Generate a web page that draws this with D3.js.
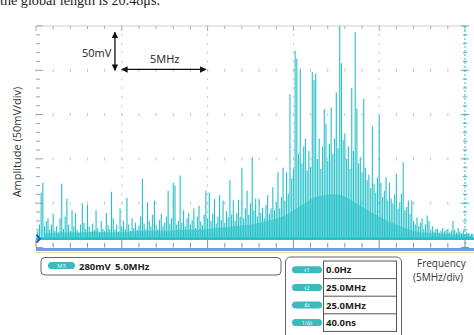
<!DOCTYPE html>
<html>
<head>
<meta charset="utf-8">
<script src="https://cdn.jsdelivr.net/npm/d3@7"></script>
<style>
body { margin: 0; background: #fff; }
#chart svg { display: block; }
</style>
</head>
<body>
<div id="chart"></div>
<script>
// spectrum lines, one every 0.1 MHz from 0 MHz, amplitude in mV above the trace baseline
const binStep = 0.1;
const amplitude = [
	5, 9, 16, 52, 63, 14, 20, 23, 10, 16,
	28, 9, 14, 7, 23, 62, 11, 25, 45, 16,
	9, 32, 14, 29, 10, 7, 16, 40, 18, 11,
	38, 14, 8, 17, 10, 32, 12, 7, 20, 11,
	9, 29, 15, 11, 53, 23, 10, 16, 8, 34,
	14, 20, 11, 46, 16, 9, 23, 12, 18, 10,
	15, 25, 68, 17, 11, 41, 20, 14, 27, 43,
	16, 11, 21, 28, 14, 18, 25, 54, 17, 23,
	63, 60, 16, 20, 71, 18, 32, 14, 23, 29,
	16, 21, 34, 12, 25, 37, 19, 15, 27, 54,
	23, 52, 20, 28, 45, 17, 25, 49, 21, 43,
	18, 31, 24, 66, 27, 43, 20, 29, 44, 25,
	80, 23, 34, 54, 27, 40, 92, 32, 45, 25,
	45, 29, 35, 23, 38, 49, 28, 34, 58, 32,
	41, 75, 34, 47, 80, 43, 75, 51, 163, 68,
	79, 212, 203, 96, 192, 85, 104, 113, 77, 99,
	81, 188, 179, 186, 90, 113, 79, 104, 146, 130,
	88, 107, 148, 96, 113, 165, 102, 242, 198, 111,
	119, 90, 104, 79, 170, 99, 233, 147, 85, 92,
	75, 158, 80, 66, 72, 57, 127, 62, 52, 69,
	139, 63, 47, 54, 69, 43, 63, 45, 40, 50,
	73, 34, 41, 51, 86, 32, 36, 43, 28, 43,
	20, 16, 24, 14, 18, 23, 11, 16, 26, 20,
	10, 14, 8, 11, 11, 7, 9, 12, 8, 10,
	11, 7, 9, 20, 10, 7, 12, 8, 6, 9,
	5, 7, 6, 3, 6
];
// dense noise floor under the lines, one value per MHz (mV)
const floorLevel = [6, 7, 7, 8, 7, 8, 9, 9, 10, 10, 12, 14, 16, 20, 26, 38, 48, 50, 42, 30, 20, 12, 7, 6, 5, 5];

const freqTicks = d3.range(0, 26, 1);      // MHz, 5 MHz/div
const ampTicks = d3.range(-10, 241, 10);    // mV, 50 mV/div
const cursorNames = ["t1", "t2", "\u0394t", "1/\u0394t"];
const cursorValues = ["0.0Hz", "25.0MHz", "25.0MHz", "40.0ns"];
const readout = ["M3", "280mV", "5.0MHz"];

const teal = "#24c1c8";

class Scope {

	constructor(){
		this.width = 474;
		this.height = 335;
		this.svg = d3.select("#chart").append("svg")
			.attr("width", this.width).attr("height", this.height)
			.style("font-family", "'Open Sans', 'Liberation Sans', sans-serif");

		this.x = d3.scaleLinear().domain([0, 25]).range([36, 465]);
		this.y = d3.scaleLinear().domain([-10, 240]).range([247.5, 26]);
	}

	addGrid(){
		let x = this.x, y = this.y;
		let g = this.svg.append("g");
		let isMajorF = d => d % 5 === 0;
		let isMajorA = d => (d + 10) % 50 === 0;

		g.append("line").attr("x1", x(0)).attr("x2", x(25)).attr("y1", y(240)).attr("y2", y(240))
			.attr("stroke", "#cfcfcf");
		g.selectAll(".tt").data(freqTicks).join("line")
			.attr("x1", d => x(d)).attr("x2", d => x(d))
			.attr("y1", y(240)).attr("y2", d => y(240) + (isMajorF(d) ? 5 : 3))
			.attr("stroke", "#a8a8a8");

		g.selectAll(".lt").data(ampTicks).join("line")
			.attr("x1", x(0)).attr("x2", d => x(0) + (isMajorA(d) ? 7 : 4))
			.attr("y1", d => y(d)).attr("y2", d => y(d))
			.attr("stroke", "#a0a0a0");

		// dotted major divisions
		[5, 10, 15, 20].forEach(f => {
			g.selectAll(null).data(ampTicks).join("rect")
				.attr("x", x(f) - 0.5).attr("y", d => y(d) - 1).attr("width", 1).attr("height", 2)
				.attr("fill", "#c4c4c4");
		});
		[40, 90, 140, 190].forEach(a => {
			g.selectAll(null).data(freqTicks).join("rect")
				.attr("x", d => x(d) - 0.5).attr("y", y(a) - 1.5).attr("width", 1).attr("height", 3)
				.attr("fill", "#c4c4c4");
		});

		// lower tick strip and status bar lines
		g.selectAll(".bt").data(freqTicks).join("line")
			.attr("x1", d => x(d)).attr("x2", d => x(d))
			.attr("y1", d => isMajorF(d) ? 239.5 : 243).attr("y2", 247.5)
			.attr("stroke", "#8c8c8c");
		g.append("rect").attr("x", x(0)).attr("y", 248).attr("width", this.width - x(0)).attr("height", 3)
			.attr("fill", "#6e9fe2");
		g.append("line").attr("x1", x(0)).attr("x2", this.width).attr("y1", 252.5).attr("y2", 252.5)
			.attr("stroke", "#efd49a");
	}

	addSpectrum(){
		let x = this.x, y = this.y;
		this.svg.append("clipPath").attr("id", "plotclip")
			.append("rect").attr("x", x(0)).attr("y", y(240)).attr("width", this.width - x(0)).attr("height", y(0) - y(240) + 2);

		let g = this.svg.append("g").attr("clip-path", "url(#plotclip)");

		let area = d3.area().curve(d3.curveMonotoneX)
			.x((d, i) => x(i + 0.5)).y0(y(0)).y1(d => y(d));
		g.append("path").datum(floorLevel).attr("d", area).attr("fill", "#8adfe2");

		g.selectAll(".spec").data(amplitude).join("line")
			.attr("x1", (d, i) => x(i * binStep)).attr("x2", (d, i) => x(i * binStep))
			.attr("y1", y(0)).attr("y2", d => y(d))
			.attr("stroke", teal).attr("stroke-width", 1.1);

		this.svg.append("line").attr("x1", x(0)).attr("x2", this.width).attr("y1", y(0)).attr("y2", y(0))
			.attr("stroke", teal).attr("stroke-width", 2.5);

		// t2 cursor at the right edge
		let c = this.svg.append("g");
		c.append("line").attr("x1", x(25)).attr("x2", x(25)).attr("y1", y(240)).attr("y2", 247)
			.attr("stroke", teal).attr("stroke-dasharray", "2,2");
		c.selectAll(null).data(ampTicks).join("line")
			.attr("x1", d => x(25) - ((d + 10) % 50 === 0 ? 4 : 2)).attr("x2", d => x(25) + ((d + 10) % 50 === 0 ? 4 : 2))
			.attr("y1", d => y(d)).attr("y2", d => y(d))
			.attr("stroke", teal);

		// channel reference marker
		this.svg.append("path")
			.attr("d", "M" + (x(0) + 0.5) + "," + (y(0) - 4) + " L" + (x(0) + 4) + "," + y(0) + " L" + (x(0) + 0.5) + "," + (y(0) + 4))
			.attr("fill", "none").attr("stroke", "#1f5fd0").attr("stroke-width", 2);
	}

	addScaleArrows(){
		let x = this.x, y = this.y;
		let defs = this.svg.append("defs");
		defs.append("marker").attr("id", "arr").attr("viewBox", "0 0 10 10")
			.attr("refX", 9).attr("refY", 5).attr("markerWidth", 5).attr("markerHeight", 5)
			.attr("orient", "auto-start-reverse")
			.append("path").attr("d", "M0,0 L10,5 L0,10 z").attr("fill", "#111");

		this.svg.append("line").attr("x1", x(4.6)).attr("x2", x(4.6)).attr("y1", y(233)).attr("y2", y(190))
			.attr("stroke", "#111").attr("stroke-width", 1.3)
			.attr("marker-start", "url(#arr)").attr("marker-end", "url(#arr)");
		this.svg.append("line").attr("x1", x(5)).attr("x2", x(9.9)).attr("y1", y(191)).attr("y2", y(191))
			.attr("stroke", "#111").attr("stroke-width", 1.3)
			.attr("marker-start", "url(#arr)").attr("marker-end", "url(#arr)");

		this.svg.append("text").attr("x", 82).attr("y", 57).attr("font-size", 11).attr("fill", "#222").text("50mV");
		this.svg.append("text").attr("x", 150).attr("y", 63).attr("font-size", 11).attr("fill", "#222").text("5MHz");

		this.svg.append("text").attr("transform", "translate(21,142) rotate(-90)")
			.attr("text-anchor", "middle").attr("font-size", 11).attr("fill", "#333")
			.text("Amplitude (50mV/div)");

		this.svg.append("text").attr("x", 417).attr("y", 267).attr("font-size", 10).attr("fill", "#333").text("Frequency");
		this.svg.append("text").attr("x", 413).attr("y", 281).attr("font-size", 10).attr("fill", "#333").text("(5MHz/div)");

		// caption line of the page above, cut by the crop
		this.svg.append("text").attr("x", 0).attr("y", 5).attr("font-size", 15)
			.attr("font-family", "'Liberation Serif', serif").attr("fill", "#222")
			.attr("textLength", 160).attr("lengthAdjust", "spacingAndGlyphs")
			.text("the global length is 20.48\u03bcs.");
	}

	pill(g, cx, cy, w, label){
		g.append("rect").attr("x", cx - w / 2).attr("y", cy - 3.5).attr("width", w).attr("height", 7)
			.attr("rx", 3.5).attr("fill", "#3cb9be");
		g.append("text").attr("x", cx).attr("y", cy + 2.2).attr("text-anchor", "middle")
			.attr("font-size", 6).attr("fill", "#e8ffff").text(label);
	}

	addReadouts(){
		let g = this.svg.append("g");
		g.append("rect").attr("x", 41).attr("y", 257.5).attr("width", 240).attr("height", 17.5).attr("rx", 4)
			.attr("fill", "#fff").attr("stroke", "#666");
		this.pill(g, 61.5, 265.5, 27, readout[0]);
		g.append("text").attr("x", 79).attr("y", 269.5).attr("font-size", 9.5).attr("font-weight", "bold")
			.attr("fill", "#222").text(readout[1]);
		g.append("text").attr("x", 115).attr("y", 269.5).attr("font-size", 9.5).attr("font-weight", "bold")
			.attr("fill", "#222").text(readout[2]);

		g.append("rect").attr("x", 285.5).attr("y", 257).attr("width", 116).attr("height", 90).attr("rx", 5)
			.attr("fill", "#fff").attr("stroke", "#666");
		let row = d3.scaleLinear().domain([0, 4]).range([261, 331.4]);
		g.append("rect").attr("x", 323.5).attr("y", row(0)).attr("width", 73).attr("height", row(4) - row(0))
			.attr("fill", "none").attr("stroke", "#555");
		cursorNames.forEach((n, i) => {
			if (i > 0) g.append("line").attr("x1", 323.5).attr("x2", 396.5).attr("y1", row(i)).attr("y2", row(i)).attr("stroke", "#555");
			this.pill(g, 307, (row(i) + row(i + 1)) / 2, 30, n);
			g.append("text").attr("x", 326).attr("y", (row(i) + row(i + 1)) / 2 + 3.5)
				.attr("font-size", 9.5).attr("font-weight", "bold").attr("fill", "#222").text(cursorValues[i]);
		});
	}
}

const scope = new Scope();
scope.addGrid();
scope.addSpectrum();
scope.addScaleArrows();
scope.addReadouts();
</script>
</body>
</html>
